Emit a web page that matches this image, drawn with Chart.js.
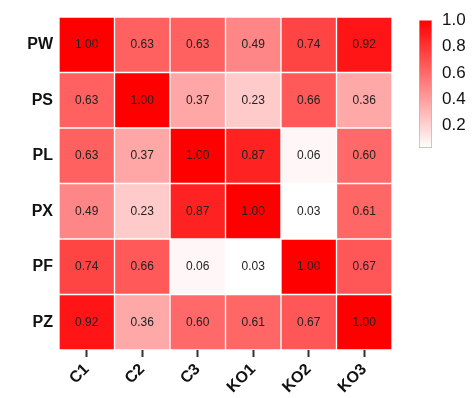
<!DOCTYPE html>
<html>
<head>
<meta charset="utf-8">
<script src="https://cdn.jsdelivr.net/npm/chart.js@4/dist/chart.umd.min.js"></script>
<style>
    body { margin: 0; background: #fff; }
    #wrap { position: relative; width: 474px; height: 398px; }
    #heatmap { position: absolute; left: 0; top: 0; }
    #colorbar { position: absolute; left: 410px; top: 0; }
</style>
</head>
<body>
<div id="wrap">
    <canvas id="heatmap" width="474" height="398"></canvas>
    <canvas id="colorbar" width="64" height="170"></canvas>
</div>
<script>
const rowLabels = ['PW', 'PS', 'PL', 'PX', 'PF', 'PZ'];
const colLabels = ['C1', 'C2', 'C3', 'KO1', 'KO2', 'KO3'];

const valuesPW = [1.00, 0.63, 0.63, 0.49, 0.74, 0.92];
const valuesPS = [0.63, 1.00, 0.37, 0.23, 0.66, 0.36];
const valuesPL = [0.63, 0.37, 1.00, 0.87, 0.06, 0.60];
const valuesPX = [0.49, 0.23, 0.87, 1.00, 0.03, 0.61];
const valuesPF = [0.74, 0.66, 0.06, 0.03, 1.00, 0.67];
const valuesPZ = [0.92, 0.36, 0.60, 0.61, 0.67, 1.00];
const rowValues = [valuesPW, valuesPS, valuesPL, valuesPX, valuesPF, valuesPZ];

const colorbarTicks = [0.2, 0.4, 0.6, 0.8, 1.0];
const minValue = 0.03;
const maxValue = 1.0;

Chart.defaults.font.family = '"Liberation Sans", Arial, sans-serif';
Chart.defaults.color = '#111';

function heatColor(v) {
    const t = (v - minValue) / (maxValue - minValue);
    const gb = Math.round(255 * (1 - t));
    return `rgb(255, ${gb}, ${gb})`;
}

// rows stacked from the bottom (PZ) up to the top (PW)
const datasets = [];
for (let i = rowLabels.length - 1; i >= 0; i--) {
    datasets.push({
        label: rowLabels[i],
        data: colLabels.map(() => 1),
        cellValues: rowValues[i],
        backgroundColor: rowValues[i].map(heatColor),
        borderColor: '#fff',
        borderWidth: 1,
        borderSkipped: false,
        barPercentage: 1,
        categoryPercentage: 1
    });
}

const cellTextPlugin = {
    id: 'cellText',
    afterDatasetsDraw(chart) {
        const ctx = chart.ctx;
        ctx.save();
        ctx.font = '12px "Liberation Sans", Arial, sans-serif';
        ctx.fillStyle = '#222';
        ctx.textAlign = 'center';
        ctx.textBaseline = 'middle';
        chart.data.datasets.forEach((ds, di) => {
            chart.getDatasetMeta(di).data.forEach((el, j) => {
                ctx.fillText(ds.cellValues[j].toFixed(2), el.x, (el.y + el.base) / 2);
            });
        });
        ctx.restore();
    }
};

new Chart(document.getElementById('heatmap'), {
    type: 'bar',
    data: { labels: colLabels, datasets: datasets },
    options: {
        responsive: false,
        animation: false,
        layout: { padding: { top: 17, right: 82, left: 0, bottom: 0 } },
        plugins: { legend: { display: false }, tooltip: { enabled: false } },
        scales: {
            x: {
                stacked: true,
                border: { display: false },
                grid: {
                    offset: false,
                    drawOnChartArea: false,
                    drawTicks: true,
                    tickLength: 7,
                    tickWidth: 2,
                    tickColor: '#333'
                },
                ticks: {
                    font: { size: 16, weight: 'bold' },
                    color: '#111',
                    maxRotation: 45,
                    minRotation: 45,
                    padding: 3
                },
                afterFit: (scale) => { scale.height = 48; }
            },
            y: {
                stacked: true,
                min: 0,
                max: 6,
                border: { display: false },
                grid: { display: false, drawTicks: false },
                afterBuildTicks: (scale) => {
                    scale.ticks = rowLabels.map((_, i) => ({ value: i + 0.5 }));
                },
                ticks: {
                    font: { size: 16, weight: 'bold' },
                    color: '#111',
                    padding: 6,
                    callback: (value) => rowLabels[rowLabels.length - 1 - Math.floor(value)]
                },
                afterFit: (scale) => { scale.width = 59; }
            }
        }
    },
    plugins: [cellTextPlugin]
});

// colour scale
new Chart(document.getElementById('colorbar'), {
    type: 'bar',
    data: {
        labels: [''],
        datasets: [{
            data: [[minValue, maxValue]],
            backgroundColor: (context) => {
                const chart = context.chart;
                if (!chart.chartArea) return null;
                const y = chart.scales.y;
                const g = chart.ctx.createLinearGradient(0, y.getPixelForValue(minValue), 0, y.getPixelForValue(maxValue));
                g.addColorStop(0, heatColor(minValue));
                g.addColorStop(1, heatColor(maxValue));
                return g;
            },
            borderColor: '#f29a9a',
            borderWidth: 1,
            borderSkipped: false,
            barPercentage: 1,
            categoryPercentage: 1
        }]
    },
    options: {
        responsive: false,
        animation: false,
        layout: { padding: { top: 16, left: 9, right: 0, bottom: 22 } },
        plugins: { legend: { display: false }, tooltip: { enabled: false } },
        scales: {
            x: { display: false },
            y: {
                position: 'right',
                min: minValue,
                max: maxValue,
                border: { display: false },
                grid: { drawOnChartArea: true, drawTicks: false, color: 'rgba(200, 0, 0, 0.25)' },
                afterBuildTicks: (scale) => {
                    scale.ticks = colorbarTicks.map(v => ({ value: v }));
                },
                ticks: {
                    font: { size: 17 },
                    color: '#111',
                    padding: 10,
                    callback: (value) => value.toFixed(1)
                },
                afterFit: (scale) => { scale.width = 42; }
            }
        }
    }
});
</script>
</body>
</html>
